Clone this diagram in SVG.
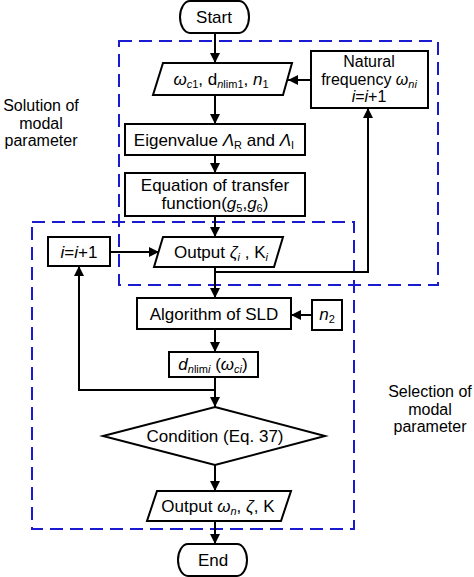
<svg xmlns="http://www.w3.org/2000/svg" width="474" height="577" viewBox="0 0 474 577">
<style>
.n{fill:#fff;stroke:#000;stroke-width:2}
.c{fill:none;stroke:#000;stroke-width:2}
.g{fill:none;stroke:#1a1ad0;stroke-width:2;stroke-dasharray:13 7}
text{font-family:"Liberation Sans",Arial,sans-serif;font-size:17px;fill:#000;text-anchor:middle}
.m{font-size:16px}
.s{font-size:11px}
.i{font-style:italic}
</style>
<defs>
<marker id="ah" markerWidth="11" markerHeight="11" refX="10" refY="5" orient="auto" markerUnits="userSpaceOnUse">
<path d="M0,0 L10,5 L0,10 Z" fill="#000"/>
</marker>
</defs>
<rect width="474" height="577" fill="#fff"/>
<g id="groups">
<rect class="g" x="119" y="41" width="319" height="244"/>
<rect class="g" x="32" y="222" width="322" height="307"/>
<text class="m" x="41" y="111">Solution of</text>
<text class="m" x="41" y="128.5">modal</text>
<text class="m" x="41" y="146">parameter</text>
<text class="m" x="430" y="397">Selection of</text>
<text class="m" x="430" y="414.5">modal</text>
<text class="m" x="430" y="432">parameter</text>
</g>
<g id="connectors">
<path class="c" d="M215,33 V63" marker-end="url(#ah)"/>
<path class="c" d="M215,95 V124" marker-end="url(#ah)"/>
<path class="c" d="M215,155 V173" marker-end="url(#ah)"/>
<path class="c" d="M215,216 V237" marker-end="url(#ah)"/>
<path class="c" d="M215,267 V298" marker-end="url(#ah)"/>
<path class="c" d="M215,272 H368 V108" marker-end="url(#ah)"/>
<path class="c" d="M311,80 H288" marker-end="url(#ah)"/>
<path class="c" d="M110,252 H159" marker-end="url(#ah)"/>
<path class="c" d="M312,315 H291" marker-end="url(#ah)"/>
<path class="c" d="M215,329 V352" marker-end="url(#ah)"/>
<path class="c" d="M215,377 V407" marker-end="url(#ah)"/>
<path class="c" d="M215,390 H79 V266" marker-end="url(#ah)"/>
<path class="c" d="M215,465 V491" marker-end="url(#ah)"/>
<path class="c" d="M215,521 V544" marker-end="url(#ah)"/>
</g>
<g id="start">
<path class="n" d="M190,1 H239 A10 16 0 0 1 239,33 H190 A10 16 0 0 1 190,1 Z"/>
<text x="214" y="23">Start</text>
</g>
<g id="input1">
<path class="n" d="M163,63 H292 L283,95 H153 Z"/>
<text x="221" y="85"><tspan class="i">ω</tspan><tspan class="s i" dy="3">c</tspan><tspan class="s" dy="0">1</tspan><tspan dy="-3">, d</tspan><tspan class="s" dy="3"><tspan class="i">n</tspan>lim1</tspan><tspan dy="-3">, </tspan><tspan class="i">n</tspan><tspan class="s" dy="3">1</tspan></text>
</g>
<g id="natural">
<rect class="n" x="311" y="51" width="117" height="57"/>
<text class="m" x="369" y="67">Natural</text>
<text class="m" x="369" y="85">frequency <tspan class="i">ω</tspan><tspan class="s i" dy="3">ni</tspan></text>
<text class="m" x="369" y="102"><tspan class="i">i</tspan>=<tspan class="i">i</tspan>+1</text>
</g>
<g id="eigen">
<rect class="n" x="125" y="124" width="180" height="31"/>
<text x="214" y="146">Eigenvalue <tspan class="i">Λ</tspan><tspan class="s" dy="3">R</tspan><tspan dy="-3"> and </tspan><tspan class="i">Λ</tspan><tspan class="s" dy="3">I</tspan></text>
</g>
<g id="equation">
<rect class="n" x="125" y="173" width="180" height="43"/>
<text x="215" y="191">Equation of transfer</text>
<text x="215" y="209">function(<tspan class="i">g</tspan><tspan class="s" dy="3">5</tspan><tspan dy="-3">,</tspan><tspan class="i">g</tspan><tspan class="s" dy="3">6</tspan><tspan dy="-3">)</tspan></text>
</g>
<g id="inc">
<rect class="n" x="48" y="237" width="62" height="29"/>
<text x="79" y="258"><tspan class="i">i</tspan>=<tspan class="i">i</tspan>+1</text>
</g>
<g id="output1">
<path class="n" d="M163,237 H283 L274,267 H154 Z"/>
<text x="221" y="258">Output <tspan class="i">ζ</tspan><tspan class="s i" dy="3">i</tspan><tspan dy="-3"> , K</tspan><tspan class="s i" dy="3">i</tspan></text>
</g>
<g id="algorithm">
<rect class="n" x="137" y="298" width="154" height="31"/>
<text x="214" y="320">Algorithm of SLD</text>
</g>
<g id="n2">
<rect class="n" x="312" y="300" width="30" height="30"/>
<text x="327" y="320"><tspan class="i">n</tspan><tspan class="s" dy="3">2</tspan></text>
</g>
<g id="dnlim">
<rect class="n" x="169" y="352" width="89" height="25"/>
<text x="213" y="370"><tspan class="i">d</tspan><tspan class="s" dy="3"><tspan class="i">n</tspan>lim<tspan class="i">i</tspan></tspan><tspan dy="-3"> (</tspan><tspan class="i">ω</tspan><tspan class="s i" dy="3">ci</tspan><tspan dy="-3">)</tspan></text>
</g>
<g id="condition">
<path class="n" d="M215,407 L325,436 L215,465 L103,436 Z"/>
<text x="215" y="442">Condition (Eq. 37)</text>
</g>
<g id="output2">
<path class="n" d="M157,491 H291 L281,521 H147 Z"/>
<text x="218" y="512">Output <tspan class="i">ω</tspan><tspan class="s i" dy="3">n</tspan><tspan dy="-3">, </tspan><tspan class="i">ζ</tspan>, K</text>
</g>
<g id="end">
<path class="n" d="M188,544 H237 A10 16 0 0 1 237,576 H188 A10 16 0 0 1 188,544 Z"/>
<text x="213" y="566">End</text>
</g>
</svg>
